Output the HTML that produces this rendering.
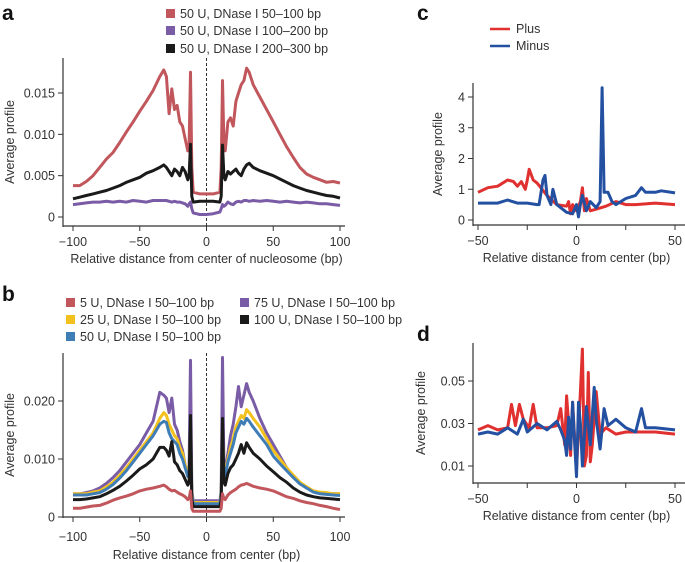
<!DOCTYPE html>
<html><head><meta charset="utf-8"><style>
body{margin:0;background:#fff;}
svg{display:block;font-family:"Liberation Sans",sans-serif;}
.tk{font-size:12.5px;fill:#333;}
.tt{font-size:12.5px;fill:#333;}
.pl{font-size:21px;font-weight:bold;fill:#111;}
</style></head><body>
<svg id="fig" width="685" height="562" viewBox="0 0 685 562"></svg>
<script>
// Panel a data (x in bp, y ×1000)
const xA=[-100,-95,-90,-85,-80,-75,-70,-65,-60,-55,-50,-45,-40,-35,-32,-30,-28,-26,-24,-22,-20,-18,-16,-14,-13,-12,-11,-10,-5,0,5,10,11,12,13,14,16,18,20,22,24,26,28,30,32,35,40,45,50,55,60,65,70,75,80,85,90,95,100];
const aRed=[3.8,3.8,4.3,5.0,6.0,7.0,7.8,9.0,10.3,11.5,12.8,14.0,15.3,17.0,17.8,17.0,12.5,15.5,13.0,13.5,11.5,11.0,9.5,8.0,8.5,17.5,6.0,3.0,2.8,2.8,2.8,3.0,6.0,16.5,9.0,8.0,11.5,12.0,11.0,14.0,15.0,16.0,16.5,18.0,17.5,16.0,14.5,13.0,11.5,10.0,8.5,7.2,6.0,5.2,4.8,4.5,4.2,4.3,4.1];
const aPurple=[1.5,1.6,1.7,1.8,1.8,1.9,1.8,1.9,1.8,2.0,1.9,1.8,2.0,2.0,2.0,2.0,1.9,1.8,1.9,1.8,1.8,1.7,1.6,1.3,1.6,1.8,1.0,0.5,0.3,0.3,0.4,0.6,1.0,1.5,1.3,1.4,1.8,1.6,1.5,1.8,1.9,1.8,2.0,2.0,1.9,2.0,1.9,2.0,1.9,1.8,1.9,1.8,1.7,1.8,1.7,1.6,1.6,1.5,1.4];
const aBlack=[2.2,2.4,2.6,2.8,3.0,3.2,3.5,3.8,4.2,4.5,4.8,5.3,5.6,6.0,6.3,6.0,5.5,5.0,5.8,5.5,5.0,6.0,5.5,4.5,5.0,8.8,2.5,1.8,1.9,1.9,1.9,1.8,2.5,8.7,5.0,4.5,5.5,5.2,5.5,5.8,5.3,5.0,5.8,6.3,6.5,6.0,5.6,5.3,5.0,4.6,4.2,3.8,3.5,3.2,3.0,2.8,2.6,2.5,2.3];
const aTicksX=[-100,-50,0,50,100];
const aTicksY=[0,0.005,0.010,0.015];
const aTickLabelsY=["0","0.005","0.010","0.015"];
// Panel b data (×1000)
const bRed=[1.5,1.5,1.7,1.9,2.0,2.4,2.9,3.3,3.6,4.0,4.5,4.8,5.0,5.3,5.5,5.2,4.8,4.5,4.6,4.3,4.0,3.8,3.5,3.0,3.2,4.5,1.5,1.0,1.0,1.0,1.0,1.0,1.5,4.0,3.2,3.0,3.8,4.2,4.5,4.8,5.2,5.5,5.6,5.8,5.6,5.3,5.0,4.8,4.5,4.0,3.5,3.2,2.8,2.5,2.3,2.0,1.8,1.5,1.3];
const bYellow=[4.0,4.0,4.0,4.3,4.5,5.2,6.0,7.2,8.5,10.0,11.5,13.0,14.5,17.0,18.0,17.5,16.0,15.0,14.0,13.5,12.0,11.0,9.0,7.5,8.0,15.0,4.0,2.5,2.5,2.5,2.5,2.5,4.0,15.0,8.0,7.5,10.0,12.0,13.5,15.5,16.5,17.5,17.0,18.5,18.0,17.0,15.5,13.5,11.5,10.0,8.5,7.2,6.0,5.2,4.5,4.3,4.2,4.0,4.0];
const bBlue=[3.8,3.8,3.8,4.0,4.2,4.8,5.6,6.7,8.0,9.5,11.0,12.5,14.0,16.0,16.5,16.3,14.5,13.5,13.0,12.5,11.0,10.0,8.5,7.0,7.5,14.0,3.8,2.3,2.3,2.3,2.3,2.3,3.8,14.0,7.5,7.0,9.5,11.0,12.5,14.5,15.5,16.5,16.0,17.0,16.5,15.5,14.0,12.5,10.5,9.2,8.0,6.8,5.7,5.0,4.3,4.0,3.9,3.8,3.7];
const bPurple=[4.0,4.0,4.2,4.5,5.0,5.8,6.8,8.0,9.5,11.0,12.5,14.5,16.5,21.5,21.0,20.5,18.0,20.5,16.0,15.0,13.0,11.5,9.0,7.5,8.5,27.0,4.5,2.8,2.8,2.8,2.8,2.8,4.5,27.5,9.0,8.0,11.0,14.0,16.0,19.0,22.5,19.0,21.0,23.0,21.5,20.0,17.0,14.5,12.5,10.5,8.5,7.0,5.8,5.0,4.5,4.2,4.1,4.0,4.0];
const bBlack=[3.0,3.0,3.1,3.3,3.5,4.0,4.6,5.3,6.2,7.2,8.3,9.0,10.0,12.0,12.0,11.5,10.5,13.0,9.5,9.0,8.0,7.5,6.5,5.5,6.0,17.5,3.0,1.8,1.8,1.8,1.8,1.8,3.0,17.0,6.0,5.5,7.5,8.5,9.0,10.0,11.0,12.5,11.0,12.8,12.0,11.0,10.0,8.8,7.8,6.8,6.0,5.0,4.3,3.8,3.5,3.3,3.2,3.1,3.0];
const bTicksY=[0,0.010,0.020];
const bTickLabelsY=["0","0.010","0.020"];
// Panel c data
const cRedX=[-50,-45,-40,-35,-32,-30,-28,-26,-25,-24,-22,-20,-15,-10,-5,-4,-3,-2,0,2,3,4,5,7,10,15,20,25,30,40,50];
const cRed=[0.9,1.05,1.1,1.3,1.25,1.1,1.25,1.0,1.3,1.65,1.3,1.2,0.8,0.5,0.45,0.6,0.2,0.5,0.3,0.6,1.05,0.3,0.7,0.3,0.35,0.45,0.6,0.5,0.5,0.55,0.5];
const cBlueX=[-50,-40,-35,-30,-25,-20,-19,-17,-16,-15,-13,-12,-10,-8,-5,-2,0,1,2,3,5,7,10,12,13,14,16,18,20,25,30,33,35,40,43,50];
const cBlue=[0.55,0.55,0.65,0.55,0.55,0.5,0.5,1.3,1.45,0.8,0.5,1.0,0.5,0.4,0.25,0.2,0.5,0.1,0.5,0.8,0.3,0.6,0.4,0.6,4.3,0.9,0.9,0.6,0.5,0.7,0.8,1.05,0.9,0.9,0.95,0.88];
const cTicksX=[-50,-25,0,25,50];
const cTicksY=[0,1,2,3,4];
// Panel d data
const dRedX=[-50,-45,-40,-35,-33,-31,-29,-27,-24,-22,-20,-15,-10,-8,-6,-5,-4,-3,-2,0,2,3,4,5,6,7,8,10,12,15,20,25,30,40,50];
const dRed=[0.027,0.029,0.027,0.028,0.039,0.029,0.039,0.032,0.028,0.039,0.028,0.028,0.029,0.037,0.020,0.043,0.030,0.015,0.040,0.008,0.045,0.065,0.010,0.015,0.054,0.012,0.020,0.045,0.025,0.028,0.025,0.026,0.026,0.026,0.025];
const dBlueX=[-50,-45,-40,-35,-30,-27,-25,-20,-15,-10,-8,-6,-5,-4,-3,-2,-1,0,1,2,3,5,7,9,10,12,14,16,20,25,30,33,35,40,50];
const dBlue=[0.025,0.026,0.025,0.028,0.025,0.032,0.026,0.030,0.027,0.031,0.027,0.022,0.015,0.033,0.018,0.040,0.022,0.005,0.040,0.030,0.010,0.038,0.020,0.047,0.032,0.018,0.037,0.029,0.032,0.028,0.026,0.037,0.028,0.028,0.027];
const dTicksY=[0.01,0.03,0.05];
const dTickLabelsY=["0.01","0.03","0.05"];

const NS="http://www.w3.org/2000/svg";
const svg=document.getElementById('fig');
function mk(tag,attrs,parent,text){const e=document.createElementNS(NS,tag);for(const k in attrs)e.setAttribute(k,attrs[k]);if(text!==undefined)e.textContent=text;(parent||svg).appendChild(e);return e;}
function lin(d0,d1,r0,r1){return v=>r0+(v-d0)/(d1-d0)*(r1-r0);}

function axes(g,P,xt,xtl,yt,ytl,title){
  const ax=mk('line',{x1:P.ax,y1:P.top,x2:P.ax,y2:P.ay+1,stroke:'#333','stroke-width':1.2},g);
  
  
  const bx=mk('line',{x1:P.ax,y1:P.ay,x2:P.right,y2:P.ay,stroke:'#333','stroke-width':1.2},g);
  
  
  xt.forEach((v,i)=>{const x=P.sx(v);
    mk('line',{x1:x,y1:P.ay,x2:x,y2:P.ay+5,stroke:'#333','stroke-width':1},g);
    const t=mk('text',{x:x,y:P.ay+P.lo,'text-anchor':'middle',class:'tk'},g,xtl[i]);
    
    });
  yt.forEach((v,i)=>{const y=P.sy(v);
    mk('line',{x1:P.ax-5,y1:y,x2:P.ax,y2:y,stroke:'#333','stroke-width':1},g);
    const t=mk('text',{x:P.ax-8,y:y+4.5,'text-anchor':'end',class:'tk'},g,ytl[i]);
    
    });
  const xt2=mk('text',{x:(P.sx(xt[0])+P.sx(xt[xt.length-1]))/2,y:P.ay+P.to,'text-anchor':'middle',class:'tt'},g,title);
  
  
  const cy=(P.top+P.ay)/2;
  const yt2=mk('text',{x:P.ylx,y:cy,'text-anchor':'middle',class:'tt',transform:`rotate(-90 ${P.ylx} ${cy})`},g,'Average profile');
  
  
}
function series(g,P,xs,ys,col,name,scale){
  const pts=xs.map((x,i)=>P.sx(x).toFixed(1)+','+P.sy(ys[i]*scale).toFixed(1)).join(' ');
  const p=mk('polyline',{points:pts,fill:'none',stroke:col,'stroke-width':3,'stroke-linejoin':'round'},g);
  
  
}
function sqLegend(g,x,y,col,label,name){
  mk('rect',{x:x,y:y-9,width:9,height:9,fill:col},g);
  const t=mk('text',{x:x+14,y:y,class:'tt'},g,label);
  
  
}
function panelLabel(x,y,s){const t=mk('text',{x:x,y:y,class:'pl'},svg,s);
  
  }

const RED='#c1575c',PUR='#7a5ca6',BLK='#1a1a1a',YEL='#f3c11d',BLU='#3f7db6',CR='#e0302f',CB='#2350a1';
const xtl=["\u2212100","\u221250","0","50","100"];
const ctl=["\u221250","","0","","50"];

// Panel a
{const g=mk('g',{});
 const P={ax:63,ay:226,top:58,right:345,ylx:14,lo:20,to:37,sx:lin(-100,100,73,340),sy:lin(0,0.015,217,93)};
 mk('line',{x1:P.sx(0),y1:P.top,x2:P.sx(0),y2:P.ay,stroke:'#333','stroke-width':1,'stroke-dasharray':'3,2'},g);
 series(g,P,xA,aRed,RED,'series-50-100bp',0.001);
 series(g,P,xA,aBlack,BLK,'series-200-300bp',0.001);
 series(g,P,xA,aPurple,PUR,'series-100-200bp',0.001);
 axes(g,P,aTicksX,xtl,aTicksY,aTickLabelsY,'Relative distance from center of nucleosome (bp)');
 sqLegend(g,166,18,RED,'50 U, DNase I 50\u2013100 bp','legend-entry-50-100');
 sqLegend(g,166,35,PUR,'50 U, DNase I 100\u2013200 bp','legend-entry-100-200');
 sqLegend(g,166,53,BLK,'50 U, DNase I 200\u2013300 bp','legend-entry-200-300');
}
panelLabel(2,20,'a');
// Panel b
{const g=mk('g',{});
 const P={ax:63,ay:517,top:353,right:345,ylx:14,lo:24,to:42,sx:lin(-100,100,73,340),sy:lin(0,0.02,517,401)};
 mk('line',{x1:P.sx(0),y1:P.top,x2:P.sx(0),y2:P.ay,stroke:'#333','stroke-width':1,'stroke-dasharray':'3,2'},g);
 series(g,P,xA,bPurple,PUR,'series-75U',0.001);
 series(g,P,xA,bYellow,YEL,'series-25U',0.001);
 series(g,P,xA,bBlue,BLU,'series-50U',0.001);
 series(g,P,xA,bBlack,BLK,'series-100U',0.001);
 series(g,P,xA,bRed,RED,'series-5U',0.001);
 axes(g,P,aTicksX,xtl,bTicksY,bTickLabelsY,'Relative distance from center (bp)');
 sqLegend(g,66,307,RED,'5 U, DNase I 50\u2013100 bp','legend-entry-5U');
 sqLegend(g,66,324,YEL,'25 U, DNase I 50\u2013100 bp','legend-entry-25U');
 sqLegend(g,66,341,BLU,'50 U, DNase I 50\u2013100 bp','legend-entry-50U');
 sqLegend(g,240,307,PUR,'75 U, DNase I 50\u2013100 bp','legend-entry-75U');
 sqLegend(g,240,324,BLK,'100 U, DNase I 50\u2013100 bp','legend-entry-100U');
}
panelLabel(2,301,'b');
// Panel c
{const g=mk('g',{});
 const P={ax:473,ay:225,top:83,right:685,ylx:442,lo:20,to:37,sx:lin(-50,50,478,675),sy:lin(0,4,220,97)};
 series(g,P,cRedX,cRed,CR,'series-plus',1);
 series(g,P,cBlueX,cBlue,CB,'series-minus',1);
 axes(g,P,cTicksX,ctl,cTicksY,["0","1","2","3","4"],'Relative distance from center (bp)');
 mk('line',{x1:490,y1:29,x2:510,y2:29,stroke:CR,'stroke-width':2.5},g);
 mk('line',{x1:490,y1:46,x2:510,y2:46,stroke:CB,'stroke-width':2.5},g);
 const t1=mk('text',{x:516,y:33,class:'tt'},g,'Plus');
 const t2=mk('text',{x:516,y:50,class:'tt'},g,'Minus');
}
panelLabel(417,20,'c');
// Panel d
{const g=mk('g',{});
 const P={ax:473,ay:483,top:343,right:685,ylx:425,lo:20,to:37,sx:lin(-50,50,478,675),sy:lin(0.01,0.05,466,381)};
 series(g,P,dRedX,dRed,CR,'series-plus',1);
 series(g,P,dBlueX,dBlue,CB,'series-minus',1);
 axes(g,P,cTicksX,ctl,dTicksY,dTickLabelsY,'Relative distance from center (bp)');
}
panelLabel(417,341,'d');
</script>
</body></html>
